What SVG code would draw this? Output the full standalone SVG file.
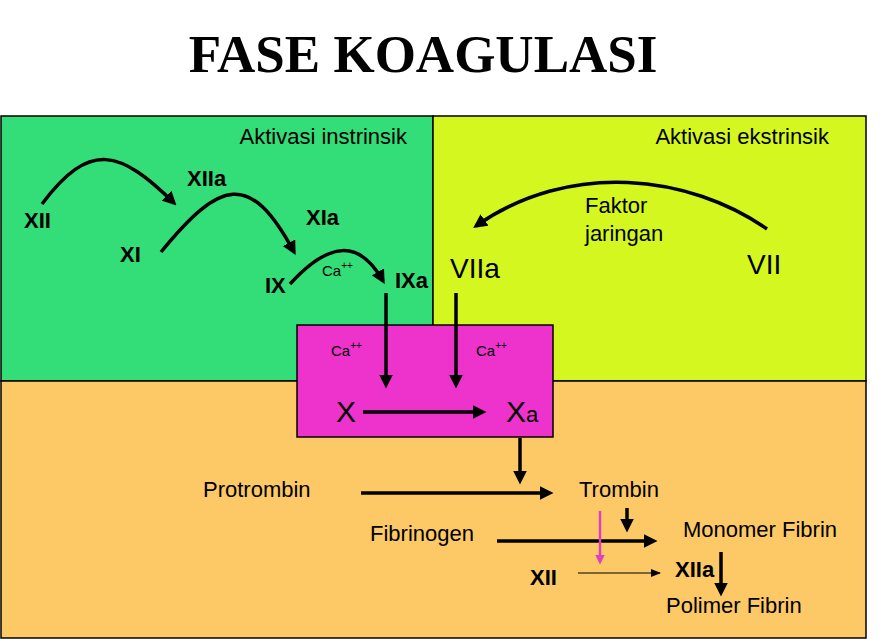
<svg xmlns="http://www.w3.org/2000/svg" width="882" height="639" viewBox="0 0 882 639">
<defs>
<marker id="ah" markerWidth="4" markerHeight="4" refX="3" refY="2" orient="auto" markerUnits="strokeWidth"><path d="M0,0 L4,2 L0,4 z" fill="#000"/></marker>
<marker id="ahs" markerWidth="10" markerHeight="8" refX="9" refY="4" orient="auto" markerUnits="userSpaceOnUse"><path d="M0,0 L10,4 L0,8 z" fill="#000"/></marker>
<marker id="ahp" markerWidth="4" markerHeight="4" refX="3" refY="2" orient="auto" markerUnits="strokeWidth"><path d="M0,0 L4,2 L0,4 z" fill="#e040c0"/></marker>
</defs>
<style>
text{font-family:"Liberation Sans",Arial,sans-serif;fill:#000}
.b{font-weight:bold;font-size:22px}
.n{font-size:22px}
.s{font-size:15px}
.c{fill:none;stroke:#000;stroke-width:3.5;marker-end:url(#ah)}
.box{stroke:#000;stroke-width:1.5}
</style>
<rect width="882" height="639" fill="#fff"/>
<text x="423" y="72" text-anchor="middle" style="font-family:'Liberation Serif','Times New Roman',serif;font-weight:bold;font-size:53px">FASE KOAGULASI</text>
<g id="region-intrinsic"><rect class="box" x="1" y="116" width="432" height="265" fill="#33dd77"/><text x="407" y="144" text-anchor="end" class="n">Aktivasi instrinsik</text></g>
<g id="region-extrinsic"><rect class="box" x="433" y="116" width="433" height="265" fill="#d4f71f"/><text x="829" y="144" text-anchor="end" class="n">Aktivasi ekstrinsik</text></g>
<g id="region-common"><rect class="box" x="1" y="381" width="865" height="257" fill="#fdc966"/></g>
<g id="box-x"><rect class="box" x="297" y="325" width="256" height="112" fill="#ee33cc"/>
<text x="331" y="356" class="s">Ca<tspan dy="-7" font-size="10">++</tspan></text>
<text x="476" y="356" class="s">Ca<tspan dy="-7" font-size="10">++</tspan></text>
<text x="336" y="422" font-size="30">X</text>
<text x="506" y="422" font-size="30">X<tspan font-size="22">a</tspan></text>
</g>
<g id="labels">
<text x="24" y="228" class="b">XII</text>
<text x="187" y="186" class="b">XIIa</text>
<text x="120" y="262" class="b">XI</text>
<text x="306" y="225" class="b">XIa</text>
<text x="265" y="293" class="b">IX</text>
<text x="322" y="276" class="s">Ca<tspan dy="-7" font-size="10">++</tspan></text>
<text x="395" y="288" class="b">IXa</text>
<text x="450" y="278" font-size="28">VIIa</text>
<text x="747" y="274" font-size="28">VII</text>
<text x="585" y="213" class="n">Faktor</text>
<text x="585" y="241" class="n">jaringan</text>
<text x="203" y="497" class="n">Protrombin</text>
<text x="579" y="497" class="n">Trombin</text>
<text x="370" y="541" class="n">Fibrinogen</text>
<text x="683" y="537" class="n">Monomer Fibrin</text>
<text x="530" y="585" class="b">XII</text>
<text x="675" y="577" class="b">XIIa</text>
<text x="666" y="613" class="n">Polimer Fibrin</text>
</g>
<g id="connectors">
<path class="c" d="M42,204 C90,140 120,150 174,203"/>
<path class="c" d="M161,252 C220,180 250,170 294,252"/>
<path class="c" d="M290,284 C330,240 360,240 383,281"/>
<path class="c" d="M767,229 C690,175 570,160 476,226"/>
<path class="c" d="M386,293 V385"/>
<path class="c" d="M456,293 V385"/>
<path class="c" d="M363,412 H483"/>
<path class="c" d="M520,438 V481"/>
<path class="c" d="M361,493 H550"/>
<path class="c" d="M627,508 V529"/>
<path class="c" d="M497,541 H654"/>
<path class="c" d="M721,552 V593"/>
<path d="M600,511 V562" stroke="#e040c0" stroke-width="2.5" fill="none" marker-end="url(#ahp)"/>
<path d="M578,573 H660" stroke="#000" stroke-width="1" fill="none" marker-end="url(#ahs)"/>
</g>
</svg>
